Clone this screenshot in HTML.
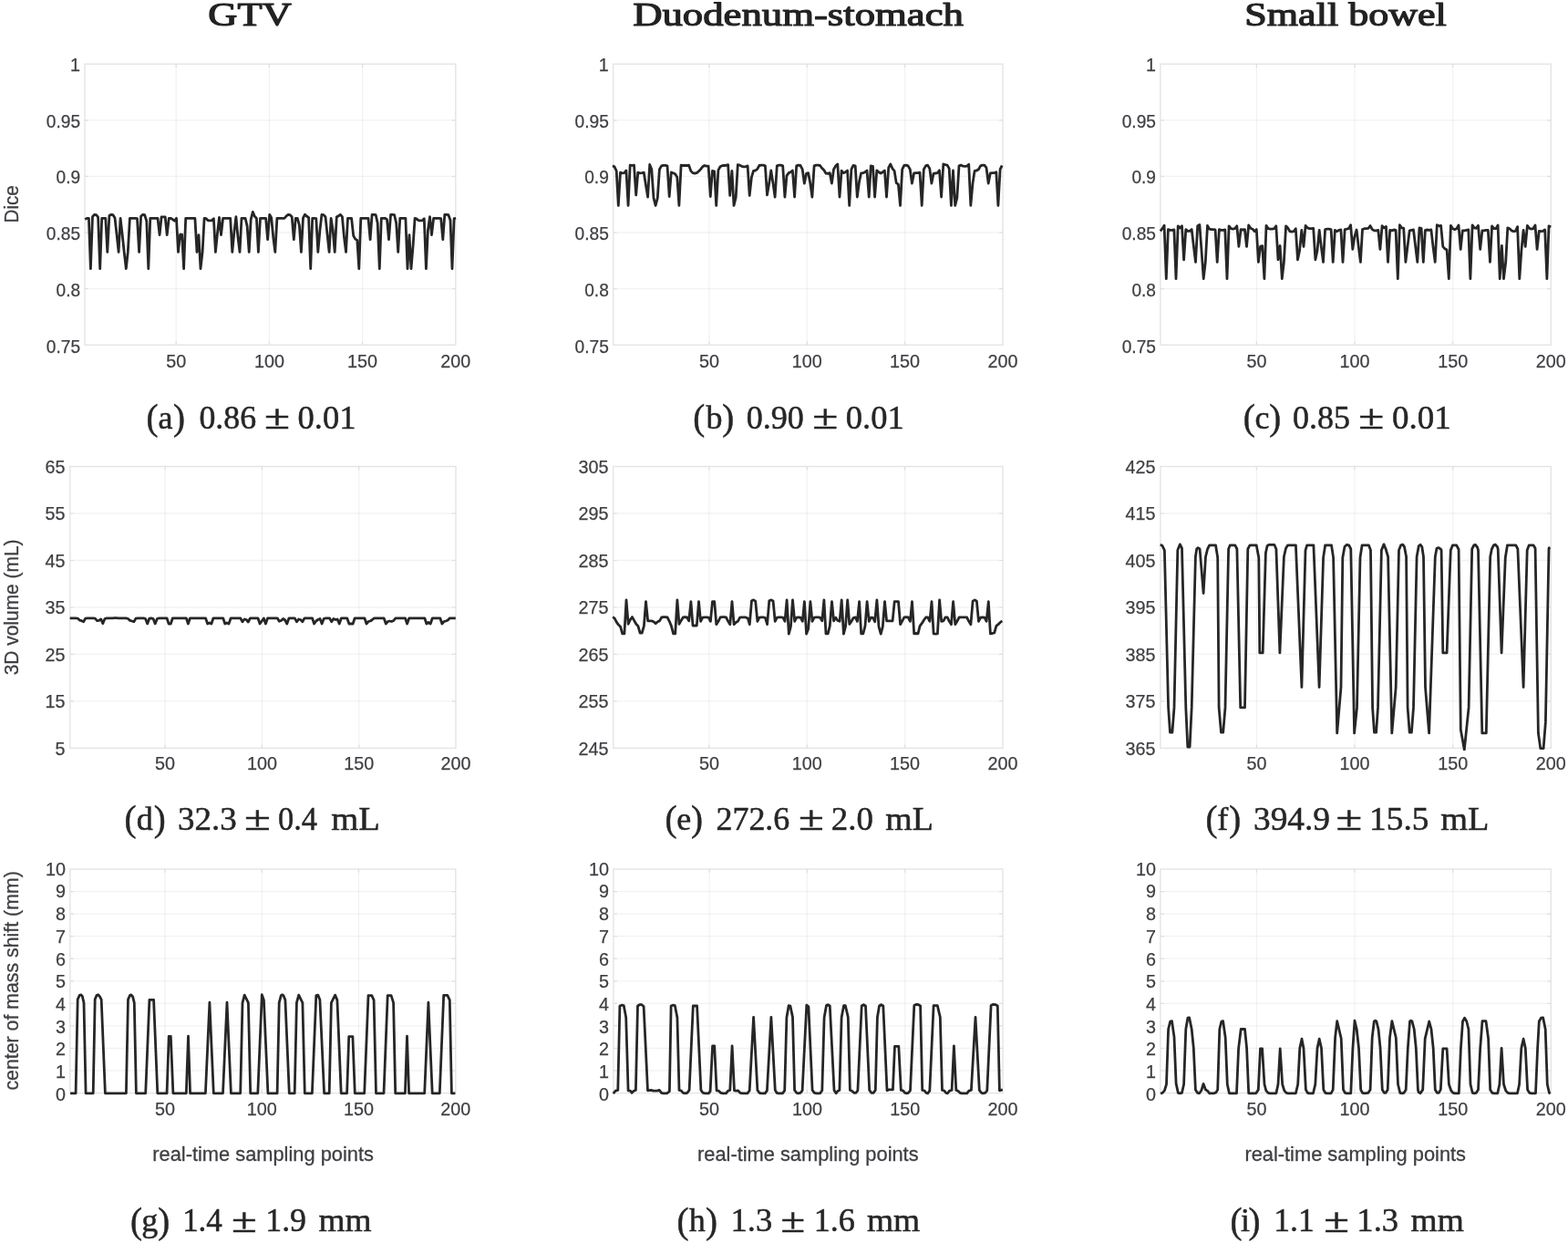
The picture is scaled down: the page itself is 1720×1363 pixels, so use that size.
<!DOCTYPE html>
<html lang="en">
<head>
<meta charset="utf-8">
<title>Real-time tracking metrics: GTV, Duodenum-stomach, Small bowel</title>
<style>
html,body{margin:0;padding:0;background:#fff;}
body{width:1720px;height:1363px;overflow:hidden;font-family:"Liberation Sans",Arial,sans-serif;}
svg{display:block;}
</style>
</head>
<body>
<svg width="1720" height="1363" viewBox="0 0 1720 1363" role="img" aria-label="Dice, 3D volume and center of mass shift over 200 real-time sampling points for GTV, Duodenum-stomach and Small bowel">
<defs><filter id="soft" x="0" y="0" width="1720" height="1363" filterUnits="userSpaceOnUse" color-interpolation-filters="sRGB"><feGaussianBlur stdDeviation="0.45"/></filter></defs>
<g filter="url(#soft)">
<rect width="1720" height="1363" fill="#fff"/>
<g id="plot-a">
<path d="M193.2 70.2V378.2M295.4 70.2V378.2M397.6 70.2V378.2" stroke="#000" stroke-opacity="0.05" stroke-width="1.3" fill="none"/>
<path d="M93 316.6H499.8M93 255H499.8M93 193.4H499.8M93 131.8H499.8" stroke="#000" stroke-opacity="0.05" stroke-width="1.3" fill="none"/>
<rect x="93" y="70.2" width="406.8" height="308" fill="none" stroke="#e4e4e6" stroke-width="1.4"/>
<path d="M193.2 378.2v-4M193.2 70.2v4M295.4 378.2v-4M295.4 70.2v4M397.6 378.2v-4M397.6 70.2v4M93 316.6h4M499.8 316.6h-4M93 255h4M499.8 255h-4M93 193.4h4M499.8 193.4h-4M93 131.8h4M499.8 131.8h-4" stroke="#dedfe2" stroke-width="1.2" fill="none"/>
<g font-family="'Liberation Sans', Arial, sans-serif" font-size="20.6" fill="#3e3f43" stroke="#3e3f43" stroke-width="0.25">
<text x="50.8" y="386.6" textLength="37.3" lengthAdjust="spacingAndGlyphs">0.75</text>
<text x="61.5" y="324.9" textLength="26.6" lengthAdjust="spacingAndGlyphs">0.8</text>
<text x="50.8" y="263.2" textLength="37.3" lengthAdjust="spacingAndGlyphs">0.85</text>
<text x="61.5" y="201.4" textLength="26.6" lengthAdjust="spacingAndGlyphs">0.9</text>
<text x="50.8" y="139.7" textLength="37.3" lengthAdjust="spacingAndGlyphs">0.95</text>
<text x="77.1" y="78" textLength="11" lengthAdjust="spacingAndGlyphs">1</text>
<text x="182.2" y="403.3" textLength="22" lengthAdjust="spacingAndGlyphs">50</text>
<text x="278.9" y="403.3" textLength="33" lengthAdjust="spacingAndGlyphs">100</text>
<text x="381.1" y="403.3" textLength="33" lengthAdjust="spacingAndGlyphs">150</text>
<text x="483.3" y="403.3" textLength="33" lengthAdjust="spacingAndGlyphs">200</text>
</g>
<clipPath id="clip-a"><rect x="91.5" y="67.7" width="409.8" height="313"/></clipPath>
<path d="M93.3 240.6L95.3 239.3L97.4 239.3L99.4 294.7L101.5 237.7L103.5 235.3L105.6 235.7L107.6 238.1L109.7 294.7L111.7 239.3L113.7 239.3L115.8 239.3L117.8 276.4L119.9 236.5L121.9 235.3L124 235.7L126 238.9L128.1 257.7L130.1 276.4L132.1 239.3L134.2 257.7L136.2 276.4L138.3 294.7L140.3 276.4L142.4 239.3L144.4 239.3L146.4 239.3L148.5 239.3L150.5 239.7L152.6 276.4L154.6 237.3L156.7 235.3L158.7 235.7L160.8 242.2L162.8 294.7L164.8 239.3L166.9 239.3L168.9 239.3L171 239.3L173 239.3L175.1 257.7L177.1 237.9L179.2 237.8L181.2 237.9L183.2 257.7L185.3 239.3L187.3 239.3L189.4 240.6L191.4 242.2L193.5 239.3L195.5 276.4L197.6 257.2L199.6 257.2L201.6 294.7L203.7 239.3L205.7 239.3L207.8 239.3L209.8 239.3L211.9 239.3L213.9 239.3L216 276.4L218 257.7L220 294.7L222.1 276.4L224.1 239.3L226.2 239.7L228.2 241.8L230.3 241.8L232.3 241.8L234.4 239.7L236.4 276.4L238.4 256.8L240.5 238.5L242.5 257.7L244.6 239.3L246.6 239.3L248.7 239.3L250.7 239.3L252.7 239.3L254.8 276.4L256.8 255.2L258.9 237.7L260.9 259.3L263 276.4L265 239.3L267.1 239.3L269.1 239.3L271.1 247.9L273.2 276.4L275.2 240.6L277.3 232.4L279.3 237.3L281.4 239.3L283.4 276.4L285.5 239.3L287.5 239.3L289.5 239.3L291.6 239.3L293.6 262.6L295.7 235.3L297.7 238.9L299.8 260.9L301.8 276.4L303.9 239.3L305.9 239.3L307.9 239.3L310 239.3L312 239.3L314.1 236.9L316.1 235.3L318.2 235.7L320.2 237.7L322.3 262.6L324.3 239.3L326.3 239.3L328.4 247.1L330.4 276.4L332.5 238.9L334.5 235.3L336.6 237.3L338.6 238.5L340.7 294.7L342.7 239.3L344.7 239.3L346.8 239.7L348.8 276.4L350.9 252.8L352.9 235.3L355 235.7L357 237.7L359 256.8L361.1 276.4L363.1 239.3L365.2 252.8L367.2 276.4L369.3 237.7L371.3 236.9L373.4 235.3L375.4 237.7L377.4 259.3L379.5 276.4L381.5 239.3L383.6 239.3L385.6 239.3L387.7 258.5L389.7 262.1L391.8 263.4L393.8 294.7L395.8 239.3L397.9 239.3L399.9 239.3L402 239.3L404 239.3L406.1 262.6L408.1 235.3L410.2 235.3L412.2 235.7L414.2 244.6L416.3 294.7L418.3 239.3L420.4 239.3L422.4 239.3L424.5 240.6L426.5 262.6L428.6 235.3L430.6 235.3L432.6 235.7L434.7 244.6L436.7 276.4L438.8 239.3L440.8 239.3L442.9 239.3L444.9 239.3L447 294.7L449 257.7L451 294.7L453.1 269.1L455.1 239.3L457.2 240.1L459.2 241.8L461.3 241.8L463.3 241.8L465.3 239.7L467.4 294.7L469.4 252.8L471.5 237.7L473.5 257.7L475.6 239.3L477.6 239.3L479.7 239.3L481.7 239.3L483.7 239.7L485.8 262.6L487.8 235.3L489.9 235.3L491.9 235.7L494 241.4L496 294.7L498.1 239.7L500.1 239.3" fill="none" stroke="#262626" stroke-width="2.8" stroke-linejoin="round" stroke-linecap="butt" clip-path="url(#clip-a)"/>
</g>
<g id="plot-b">
<path d="M777.9 70.2V378.2M885.3 70.2V378.2M992.6 70.2V378.2" stroke="#000" stroke-opacity="0.05" stroke-width="1.3" fill="none"/>
<path d="M672.7 316.6H1100M672.7 255H1100M672.7 193.4H1100M672.7 131.8H1100" stroke="#000" stroke-opacity="0.05" stroke-width="1.3" fill="none"/>
<rect x="672.7" y="70.2" width="427.3" height="308" fill="none" stroke="#e4e4e6" stroke-width="1.4"/>
<path d="M777.9 378.2v-4M777.9 70.2v4M885.3 378.2v-4M885.3 70.2v4M992.6 378.2v-4M992.6 70.2v4M672.7 316.6h4M1100 316.6h-4M672.7 255h4M1100 255h-4M672.7 193.4h4M1100 193.4h-4M672.7 131.8h4M1100 131.8h-4" stroke="#dedfe2" stroke-width="1.2" fill="none"/>
<g font-family="'Liberation Sans', Arial, sans-serif" font-size="20.6" fill="#3e3f43" stroke="#3e3f43" stroke-width="0.25">
<text x="630.5" y="386.6" textLength="37.3" lengthAdjust="spacingAndGlyphs">0.75</text>
<text x="641.2" y="324.9" textLength="26.6" lengthAdjust="spacingAndGlyphs">0.8</text>
<text x="630.5" y="263.2" textLength="37.3" lengthAdjust="spacingAndGlyphs">0.85</text>
<text x="641.2" y="201.4" textLength="26.6" lengthAdjust="spacingAndGlyphs">0.9</text>
<text x="630.5" y="139.7" textLength="37.3" lengthAdjust="spacingAndGlyphs">0.95</text>
<text x="656.8" y="78" textLength="11" lengthAdjust="spacingAndGlyphs">1</text>
<text x="766.9" y="403.3" textLength="22" lengthAdjust="spacingAndGlyphs">50</text>
<text x="868.8" y="403.3" textLength="33" lengthAdjust="spacingAndGlyphs">100</text>
<text x="976.1" y="403.3" textLength="33" lengthAdjust="spacingAndGlyphs">150</text>
<text x="1083.5" y="403.3" textLength="33" lengthAdjust="spacingAndGlyphs">200</text>
</g>
<clipPath id="clip-b"><rect x="671.2" y="67.7" width="430.3" height="313"/></clipPath>
<path d="M671.9 181.9L674 182.8L676.2 187.4L678.3 225.3L680.5 189.2L682.6 189.8L684.8 189.6L686.9 187L689.1 225.3L691.2 181.1L693.4 181.3L695.5 181.1L697.7 213.8L699.8 189.2L702 189.8L704.1 189.6L706.3 189.2L708.4 202.8L710.6 216L712.7 180.5L714.8 185.7L717 217.2L719.1 225.3L721.3 217.2L723.4 185.7L725.6 181.9L727.7 181.3L729.9 181.3L732 181.9L734.2 215.5L736.3 189L738.5 189.8L740.6 190.8L742.8 194.3L744.9 225.3L747.1 181.1L749.2 181.5L751.3 181.5L753.5 181.5L755.6 181.1L757.8 187.4L759.9 189.6L762.1 190L764.2 189.6L766.4 187.9L768.5 185.7L770.7 182.8L772.8 181.5L775 182.2L777.1 182.2L779.3 215.5L781.4 187.4L783.6 187.9L785.7 225.3L787.9 186.6L790 182.8L792.1 181.7L794.3 181.5L796.4 181.3L798.6 180.6L800.7 214.3L802.9 187.3L805 225.3L807.2 216.4L809.3 180.6L811.5 181.1L813.6 182.3L815.8 182.8L817.9 182.8L820.1 181.9L822.2 214.3L824.4 194.3L826.5 187.4L828.6 187L830.8 185.3L832.9 181.5L835.1 181.1L837.2 181.1L839.4 181.9L841.5 213.8L843.7 201.1L845.8 187L848 201.1L850.1 216L852.3 181.9L854.4 181.1L856.6 181.1L858.7 181.9L860.9 216L863 192.6L865.2 189.6L867.3 188.7L869.4 187L871.6 216L873.7 181.9L875.9 181.1L878 181.5L880.2 185.7L882.3 201.1L884.5 190.4L886.6 189.6L888.8 201.1L890.9 216L893.1 181.9L895.2 181.1L897.4 181.1L899.5 181.5L901.7 184.5L903.8 186.6L905.9 190L908.1 190.4L910.2 189.6L912.4 201.1L914.5 185.7L916.7 181.9L918.8 180L921 216L923.1 187.1L925.3 189.6L927.4 188.7L929.6 187L931.7 225.3L933.9 185.7L936 181.5L938.2 181.9L940.3 216L942.5 199.4L944.6 190L946.7 189.6L948.9 188.7L951 187L953.2 216L955.3 181.9L957.5 182.3L959.6 216L961.8 186.8L963.9 188.7L966.1 190L968.2 188.7L970.4 187L972.5 216L974.7 184L976.8 180L979 184.9L981.1 187.4L983.2 200.6L985.4 202.1L987.5 225.3L989.7 185.7L991.8 181.5L994 181.1L996.1 181.9L998.3 185.7L1000.4 201.1L1002.6 190L1004.7 189.6L1006.9 189.6L1009 189.2L1011.2 225.3L1013.3 185.7L1015.5 181.9L1017.6 181.1L1019.8 184.9L1021.9 201.1L1024 190.4L1026.2 190L1028.3 189.6L1030.5 186.8L1032.6 216L1034.8 180L1036.9 180.6L1039.1 181.1L1041.2 184.9L1043.4 225.3L1045.5 187L1047.7 225.3L1049.8 217.2L1052 181.9L1054.1 181.1L1056.3 182.2L1058.4 182.3L1060.5 182.2L1062.7 180.2L1064.8 225.3L1067 201.1L1069.1 187.4L1071.3 187L1073.4 185.7L1075.6 181.9L1077.7 181.1L1079.9 181.1L1082 184L1084.2 201.1L1086.3 190L1088.5 189.6L1090.6 189.6L1092.8 188.7L1094.9 225.3L1097.1 185.7L1099.2 181.5" fill="none" stroke="#262626" stroke-width="2.8" stroke-linejoin="round" stroke-linecap="butt" clip-path="url(#clip-b)"/>
</g>
<g id="plot-c">
<path d="M1378.4 70.2V378.2M1486 70.2V378.2M1593.7 70.2V378.2" stroke="#000" stroke-opacity="0.05" stroke-width="1.3" fill="none"/>
<path d="M1272.9 316.6H1701.3M1272.9 255H1701.3M1272.9 193.4H1701.3M1272.9 131.8H1701.3" stroke="#000" stroke-opacity="0.05" stroke-width="1.3" fill="none"/>
<rect x="1272.9" y="70.2" width="428.4" height="308" fill="none" stroke="#e4e4e6" stroke-width="1.4"/>
<path d="M1378.4 378.2v-4M1378.4 70.2v4M1486 378.2v-4M1486 70.2v4M1593.7 378.2v-4M1593.7 70.2v4M1272.9 316.6h4M1701.3 316.6h-4M1272.9 255h4M1701.3 255h-4M1272.9 193.4h4M1701.3 193.4h-4M1272.9 131.8h4M1701.3 131.8h-4" stroke="#dedfe2" stroke-width="1.2" fill="none"/>
<g font-family="'Liberation Sans', Arial, sans-serif" font-size="20.6" fill="#3e3f43" stroke="#3e3f43" stroke-width="0.25">
<text x="1230.7" y="386.6" textLength="37.3" lengthAdjust="spacingAndGlyphs">0.75</text>
<text x="1241.4" y="324.9" textLength="26.6" lengthAdjust="spacingAndGlyphs">0.8</text>
<text x="1230.7" y="263.2" textLength="37.3" lengthAdjust="spacingAndGlyphs">0.85</text>
<text x="1241.4" y="201.4" textLength="26.6" lengthAdjust="spacingAndGlyphs">0.9</text>
<text x="1230.7" y="139.7" textLength="37.3" lengthAdjust="spacingAndGlyphs">0.95</text>
<text x="1257" y="78" textLength="11" lengthAdjust="spacingAndGlyphs">1</text>
<text x="1367.4" y="403.3" textLength="22" lengthAdjust="spacingAndGlyphs">50</text>
<text x="1469.5" y="403.3" textLength="33" lengthAdjust="spacingAndGlyphs">100</text>
<text x="1577.2" y="403.3" textLength="33" lengthAdjust="spacingAndGlyphs">150</text>
<text x="1684.8" y="403.3" textLength="33" lengthAdjust="spacingAndGlyphs">200</text>
</g>
<clipPath id="clip-c"><rect x="1271.4" y="67.7" width="431.4" height="313"/></clipPath>
<path d="M1272.8 253.3L1275 250.7L1277.1 247.3L1279.3 305.6L1281.4 251.6L1283.6 252.4L1285.7 252.4L1287.9 252L1290 305.6L1292.2 247.8L1294.3 249.9L1296.5 247.8L1298.6 284.8L1300.8 251.6L1302.9 253.3L1305.1 253.3L1307.2 251.6L1309.4 270.3L1311.5 287.3L1313.7 247.8L1315.9 246.5L1318 274.6L1320.2 305.6L1322.3 287.3L1324.5 247.3L1326.6 251.2L1328.8 251.6L1330.9 251.6L1333.1 252L1335.2 287.3L1337.4 251.6L1339.5 252.4L1341.7 252.4L1343.8 252L1346 305.6L1348.1 247.8L1350.3 250.7L1352.5 251.2L1354.6 250.7L1356.8 247.8L1358.9 270.3L1361.1 251.6L1363.2 252L1365.4 251.6L1367.5 270.3L1369.7 246.9L1371.8 250.3L1374 251.2L1376.1 253.7L1378.3 251.6L1380.4 287.3L1382.6 270.1L1384.7 269.7L1386.9 305.6L1389 247.3L1391.2 250.7L1393.4 251.2L1395.5 251.2L1397.7 250.7L1399.8 247.8L1402 284.8L1404.1 269.5L1406.3 305.6L1408.4 287.3L1410.6 247.8L1412.7 249.9L1414.9 253.7L1417 254.2L1419.2 253.7L1421.3 250.7L1423.5 284.8L1425.6 274.6L1427.8 252.4L1430 270.3L1432.1 247.3L1434.3 249.9L1436.4 250.7L1438.6 250.7L1440.7 250.3L1442.9 284.8L1445 274.6L1447.2 252.4L1449.3 270.3L1451.5 287.3L1453.6 251.6L1455.8 251.2L1457.9 251.2L1460.1 251.6L1462.2 287.3L1464.4 252.4L1466.5 253.7L1468.7 252.4L1470.9 252L1473 287.3L1475.2 251.6L1477.3 251.2L1479.5 250.7L1481.6 246.7L1483.8 273.3L1485.9 259.3L1488.1 252L1490.2 269.9L1492.4 287.3L1494.5 251.6L1496.7 250.7L1498.8 250.7L1501 250.3L1503.1 247.6L1505.3 251.6L1507.5 252.9L1509.6 252.9L1511.8 252.4L1513.9 273.3L1516.1 247.6L1518.2 249.9L1520.4 248.4L1522.5 287.3L1524.7 252.4L1526.8 252.9L1529 252L1531.1 252.4L1533.3 305.6L1535.4 246.7L1537.6 249.9L1539.7 250.2L1541.9 287.3L1544 270.3L1546.2 252.9L1548.4 252.4L1550.5 252L1552.7 270.3L1554.8 287.3L1557 249.9L1559.1 250.3L1561.3 287.3L1563.4 252.3L1565.6 252L1567.7 252.4L1569.9 252L1572 270.3L1574.2 287.3L1576.3 246.7L1578.5 247.8L1580.6 247.3L1582.8 270.3L1585 272.9L1587.1 273.7L1589.3 305.6L1591.4 247.3L1593.6 250.7L1595.7 251.6L1597.9 250.7L1600 246.9L1602.2 273.3L1604.3 252.9L1606.5 252.9L1608.6 252.4L1610.8 252L1612.9 305.6L1615.1 246.9L1617.2 249.9L1619.4 250.3L1621.5 247.3L1623.7 273.3L1625.9 252.9L1628 252.9L1630.2 252.4L1632.3 252.4L1634.5 287.3L1636.6 247.8L1638.8 250.7L1640.9 250.7L1643.1 246.9L1645.2 305.6L1647.4 269.5L1649.5 305.6L1651.7 287.3L1653.8 249.9L1656 250.7L1658.1 252.9L1660.3 253.7L1662.5 253.3L1664.6 248.6L1666.8 305.6L1668.9 274.6L1671.1 252.4L1673.2 270.3L1675.4 247.3L1677.5 250.3L1679.7 251.2L1681.8 250.7L1684 246.9L1686.1 273.3L1688.3 253.3L1690.4 253.7L1692.6 253.3L1694.7 252L1696.9 305.6L1699 247.8L1701.2 249" fill="none" stroke="#262626" stroke-width="2.8" stroke-linejoin="round" stroke-linecap="butt" clip-path="url(#clip-c)"/>
</g>
<g id="plot-d">
<path d="M181.1 511.5V820.4M287.4 511.5V820.4M393.7 511.5V820.4" stroke="#000" stroke-opacity="0.05" stroke-width="1.3" fill="none"/>
<path d="M76.9 768.9H500M76.9 717.4H500M76.9 666H500M76.9 614.5H500M76.9 563H500" stroke="#000" stroke-opacity="0.05" stroke-width="1.3" fill="none"/>
<rect x="76.9" y="511.5" width="423.1" height="308.9" fill="none" stroke="#e4e4e6" stroke-width="1.4"/>
<path d="M181.1 820.4v-4M181.1 511.5v4M287.4 820.4v-4M287.4 511.5v4M393.7 820.4v-4M393.7 511.5v4M76.9 768.9h4M500 768.9h-4M76.9 717.4h4M500 717.4h-4M76.9 666h4M500 666h-4M76.9 614.5h4M500 614.5h-4M76.9 563h4M500 563h-4" stroke="#dedfe2" stroke-width="1.2" fill="none"/>
<g font-family="'Liberation Sans', Arial, sans-serif" font-size="20.6" fill="#3e3f43" stroke="#3e3f43" stroke-width="0.25">
<text x="60.6" y="828" textLength="11" lengthAdjust="spacingAndGlyphs">5</text>
<text x="49.6" y="776.4" textLength="22" lengthAdjust="spacingAndGlyphs">15</text>
<text x="49.6" y="724.9" textLength="22" lengthAdjust="spacingAndGlyphs">25</text>
<text x="49.6" y="673.3" textLength="22" lengthAdjust="spacingAndGlyphs">35</text>
<text x="49.6" y="621.7" textLength="22" lengthAdjust="spacingAndGlyphs">45</text>
<text x="49.6" y="570.2" textLength="22" lengthAdjust="spacingAndGlyphs">55</text>
<text x="49.6" y="518.6" textLength="22" lengthAdjust="spacingAndGlyphs">65</text>
<text x="170.1" y="844.4" textLength="22" lengthAdjust="spacingAndGlyphs">50</text>
<text x="270.9" y="844.4" textLength="33" lengthAdjust="spacingAndGlyphs">100</text>
<text x="377.2" y="844.4" textLength="33" lengthAdjust="spacingAndGlyphs">150</text>
<text x="483.5" y="844.4" textLength="33" lengthAdjust="spacingAndGlyphs">200</text>
</g>
<clipPath id="clip-d"><rect x="75.4" y="509" width="426.1" height="313.9"/></clipPath>
<path d="M76.7 677.8L78.8 677.8L81 677.8L83.1 677.8L85.2 678.1L87.3 680.1L89.5 680.7L91.6 681.7L93.7 678.1L95.8 677.8L98 677.8L100.1 677.8L102.2 677.8L104.3 678.1L106.5 680.7L108.6 680.4L110.7 678.9L112.8 683.6L115 678.5L117.1 677.8L119.2 677.8L121.3 677.8L123.5 677.8L125.6 677.6L127.7 677.6L129.9 677.8L132 677.8L134.1 677.8L136.2 677.8L138.4 677.8L140.5 678.5L142.6 680.4L144.7 681L146.9 681.8L149 678.1L151.1 677.8L153.2 677.8L155.4 677.8L157.5 677.8L159.6 678.5L161.7 683.9L163.9 678.1L166 677.8L168.1 678.5L170.2 683.9L172.4 678.5L174.5 677.8L176.6 677.8L178.8 677.8L180.9 677.8L183 677.8L185.1 684L187.3 684L189.4 677.8L191.5 677.8L193.6 677.8L195.8 677.8L197.9 677.8L200 677.8L202.1 677.8L204.3 677.8L206.4 684L208.5 677.8L210.6 677.8L212.8 677.8L214.9 677.8L217 677.8L219.2 677.8L221.3 677.8L223.4 677.8L225.5 677.8L227.7 684L229.8 683L231.9 684L234 677.8L236.2 677.8L238.3 677.8L240.4 677.8L242.5 677.8L244.7 677.8L246.8 684L248.9 683L251 684L253.2 677.8L255.3 677.8L257.4 677.8L259.5 677.8L261.7 677.8L263.8 677.8L265.9 681.8L268.1 679L270.2 679.5L272.3 682L274.4 677.8L276.6 677.8L278.7 677.8L280.8 677.8L282.9 677.8L285.1 684L287.2 681L289.3 678L291.4 684L293.6 677.8L295.7 677.8L297.8 677.8L299.9 677.8L302.1 677.8L304.2 677.8L306.3 681.3L308.4 680.5L310.6 678.5L312.7 680L314.8 684L317 677.8L319.1 677.8L321.2 677.8L323.3 677.8L325.5 681.8L327.6 679L329.7 679.5L331.8 681.8L334 677.8L336.1 677.8L338.2 677.8L340.3 677.8L342.5 677.8L344.6 684L346.7 681L348.8 679.5L351 678.5L353.1 684L355.2 678.5L357.3 677.8L359.5 677.8L361.6 677.8L363.7 681.8L365.9 678.5L368 679.5L370.1 679L372.2 684L374.4 677.8L376.5 677.8L378.6 677.8L380.7 677.8L382.9 684L385 684L387.1 684L389.2 677.8L391.4 677.8L393.5 677.8L395.6 677.8L397.7 677.8L399.9 677.8L402 684L404.1 681.5L406.3 681L408.4 679.5L410.5 677.8L412.6 677.8L414.8 677.8L416.9 677.8L419 677.8L421.1 677.8L423.3 684L425.4 681.5L427.5 681L429.6 681.5L431.8 680.5L433.9 677.8L436 677.8L438.1 677.8L440.3 677.8L442.4 677.8L444.5 677.8L446.6 684L448.8 677.8L450.9 677.8L453 677.8L455.2 677.8L457.3 677.8L459.4 677.8L461.5 677.8L463.7 677.8L465.8 677.8L467.9 684L470 682.5L472.2 684L474.3 677.8L476.4 677.8L478.5 677.8L480.7 677.8L482.8 677.8L484.9 684L487 681.5L489.2 681L491.3 680L493.4 677.8L495.5 677.8L497.7 677.8L499.8 677.8" fill="none" stroke="#262626" stroke-width="2.8" stroke-linejoin="round" stroke-linecap="butt" clip-path="url(#clip-d)"/>
</g>
<g id="plot-e">
<path d="M777.9 511.5V820.4M885.3 511.5V820.4M992.6 511.5V820.4" stroke="#000" stroke-opacity="0.05" stroke-width="1.3" fill="none"/>
<path d="M672.7 768.9H1100M672.7 717.4H1100M672.7 666H1100M672.7 614.5H1100M672.7 563H1100" stroke="#000" stroke-opacity="0.05" stroke-width="1.3" fill="none"/>
<rect x="672.7" y="511.5" width="427.3" height="308.9" fill="none" stroke="#e4e4e6" stroke-width="1.4"/>
<path d="M777.9 820.4v-4M777.9 511.5v4M885.3 820.4v-4M885.3 511.5v4M992.6 820.4v-4M992.6 511.5v4M672.7 768.9h4M1100 768.9h-4M672.7 717.4h4M1100 717.4h-4M672.7 666h4M1100 666h-4M672.7 614.5h4M1100 614.5h-4M672.7 563h4M1100 563h-4" stroke="#dedfe2" stroke-width="1.2" fill="none"/>
<g font-family="'Liberation Sans', Arial, sans-serif" font-size="20.6" fill="#3e3f43" stroke="#3e3f43" stroke-width="0.25">
<text x="634.4" y="828" textLength="33" lengthAdjust="spacingAndGlyphs">245</text>
<text x="634.4" y="776.4" textLength="33" lengthAdjust="spacingAndGlyphs">255</text>
<text x="634.4" y="724.9" textLength="33" lengthAdjust="spacingAndGlyphs">265</text>
<text x="634.4" y="673.3" textLength="33" lengthAdjust="spacingAndGlyphs">275</text>
<text x="634.4" y="621.7" textLength="33" lengthAdjust="spacingAndGlyphs">285</text>
<text x="634.4" y="570.2" textLength="33" lengthAdjust="spacingAndGlyphs">295</text>
<text x="634.4" y="518.6" textLength="33" lengthAdjust="spacingAndGlyphs">305</text>
<text x="766.9" y="844.4" textLength="22" lengthAdjust="spacingAndGlyphs">50</text>
<text x="868.8" y="844.4" textLength="33" lengthAdjust="spacingAndGlyphs">100</text>
<text x="976.1" y="844.4" textLength="33" lengthAdjust="spacingAndGlyphs">150</text>
<text x="1083.5" y="844.4" textLength="33" lengthAdjust="spacingAndGlyphs">200</text>
</g>
<clipPath id="clip-e"><rect x="671.2" y="509" width="430.3" height="313.9"/></clipPath>
<path d="M672 676.6L674.1 677.9L676.3 682.1L678.4 685.1L680.6 687.2L682.7 694.9L684.9 694.9L687 657.9L689.2 684.3L691.3 679.6L693.5 676.6L695.6 680.4L697.8 684.3L699.9 686.4L702.1 694L704.2 694L706.4 686.4L708.5 659.6L710.7 680.9L712.8 680.9L714.9 680.9L717.1 681.7L719.2 683.8L721.4 681.7L723.5 680.9L725.7 677L727.8 676.6L730 676.6L732.1 677L734.3 681.3L736.4 686.4L738.6 694.9L740.7 694.9L742.9 657.9L745 684.3L747.2 680.4L749.3 677L751.4 676.6L753.6 677L755.7 680.9L757.9 659.6L760 686L762.2 686L764.3 686L766.5 659.6L768.6 681.3L770.8 677.2L772.9 676.9L775.1 676.9L777.2 677.2L779.4 681.3L781.5 659.6L783.7 659.6L785.8 684.7L788 681.3L790.1 677L792.2 676.6L794.4 676.6L796.5 677L798.7 681.3L800.8 684.7L803 659.6L805.1 684.7L807.3 682.5L809.4 681.3L811.6 677.2L813.7 676.9L815.9 676.9L818 676.9L820.2 677.9L822.3 684.7L824.5 658.7L826.6 657.9L828.7 659.1L830.9 681.3L833 677.2L835.2 676.9L837.3 676.9L839.5 677.5L841.6 684.7L843.8 658.7L845.9 657.9L848.1 659.1L850.2 681.3L852.4 677.2L854.5 676.9L856.7 676.9L858.8 677.2L861 681.3L863.1 657.9L865.3 695.1L867.4 687.2L869.5 657.9L871.7 681.3L873.8 677.2L876 676.9L878.1 677.2L880.3 681.3L882.4 659.6L884.6 695.1L886.7 689.4L888.9 659.6L891 681.3L893.2 677.2L895.3 676.9L897.5 676.9L899.6 677.2L901.8 680.9L903.9 657.9L906 694.9L908.2 694.9L910.3 686.4L912.5 659.6L914.6 680.9L916.8 677.2L918.9 680.4L921.1 681.3L923.2 657.9L925.4 695.1L927.5 687.2L929.7 657.9L931.8 684.3L934 681.3L936.1 677.5L938.3 676.9L940.4 681.3L942.6 659.6L944.7 694.9L946.8 694.9L949 686.4L951.1 659.6L953.3 681.3L955.4 677.2L957.6 677.5L959.7 681.7L961.9 657.9L964 687.2L966.2 695.1L968.3 687.2L970.5 659.6L972.6 680.9L974.8 680.9L976.9 680.9L979.1 680.9L981.2 659.6L983.3 659.6L985.5 659.6L987.6 684.7L989.8 680.9L991.9 676.9L994.1 676.6L996.2 676.9L998.4 681.3L1000.5 659.6L1002.7 694.9L1004.8 694.5L1007 694.9L1009.1 686.4L1011.3 683.4L1013.4 680L1015.6 677L1017.7 676.9L1019.9 681.3L1022 659.6L1024.1 694.9L1026.3 695.1L1028.4 694.9L1030.6 657.9L1032.7 681.3L1034.9 680.9L1037 676.9L1039.2 676.9L1041.3 681.3L1043.5 684.7L1045.6 659.6L1047.8 684.7L1049.9 681.3L1052.1 677L1054.2 676.9L1056.4 676.9L1058.5 676.9L1060.6 677L1062.8 681.3L1064.9 684.7L1067.1 659.1L1069.2 657.9L1071.4 659.3L1073.5 681.3L1075.7 677.2L1077.8 676.9L1080 677.2L1082.1 681.3L1084.3 659.6L1086.4 694.9L1088.6 694.5L1090.7 694L1092.9 686.4L1095 684.7L1097.2 682.5L1099.3 680.9" fill="none" stroke="#262626" stroke-width="2.8" stroke-linejoin="round" stroke-linecap="butt" clip-path="url(#clip-e)"/>
</g>
<g id="plot-f">
<path d="M1378.4 511.5V820.4M1486 511.5V820.4M1593.7 511.5V820.4" stroke="#000" stroke-opacity="0.05" stroke-width="1.3" fill="none"/>
<path d="M1272.9 768.9H1701.3M1272.9 717.4H1701.3M1272.9 666H1701.3M1272.9 614.5H1701.3M1272.9 563H1701.3" stroke="#000" stroke-opacity="0.05" stroke-width="1.3" fill="none"/>
<rect x="1272.9" y="511.5" width="428.4" height="308.9" fill="none" stroke="#e4e4e6" stroke-width="1.4"/>
<path d="M1378.4 820.4v-4M1378.4 511.5v4M1486 820.4v-4M1486 511.5v4M1593.7 820.4v-4M1593.7 511.5v4M1272.9 768.9h4M1701.3 768.9h-4M1272.9 717.4h4M1701.3 717.4h-4M1272.9 666h4M1701.3 666h-4M1272.9 614.5h4M1701.3 614.5h-4M1272.9 563h4M1701.3 563h-4" stroke="#dedfe2" stroke-width="1.2" fill="none"/>
<g font-family="'Liberation Sans', Arial, sans-serif" font-size="20.6" fill="#3e3f43" stroke="#3e3f43" stroke-width="0.25">
<text x="1234.6" y="828" textLength="33" lengthAdjust="spacingAndGlyphs">365</text>
<text x="1234.6" y="776.4" textLength="33" lengthAdjust="spacingAndGlyphs">375</text>
<text x="1234.6" y="724.9" textLength="33" lengthAdjust="spacingAndGlyphs">385</text>
<text x="1234.6" y="673.3" textLength="33" lengthAdjust="spacingAndGlyphs">395</text>
<text x="1234.6" y="621.7" textLength="33" lengthAdjust="spacingAndGlyphs">405</text>
<text x="1234.6" y="570.2" textLength="33" lengthAdjust="spacingAndGlyphs">415</text>
<text x="1234.6" y="518.6" textLength="33" lengthAdjust="spacingAndGlyphs">425</text>
<text x="1367.4" y="844.4" textLength="22" lengthAdjust="spacingAndGlyphs">50</text>
<text x="1469.5" y="844.4" textLength="33" lengthAdjust="spacingAndGlyphs">100</text>
<text x="1577.2" y="844.4" textLength="33" lengthAdjust="spacingAndGlyphs">150</text>
<text x="1684.8" y="844.4" textLength="33" lengthAdjust="spacingAndGlyphs">200</text>
</g>
<clipPath id="clip-f"><rect x="1271.4" y="509" width="431.4" height="313.9"/></clipPath>
<path d="M1272.7 597.3L1274.8 598.2L1277.4 603.3L1281.6 775.9L1283.5 803.1L1285.9 803.1L1288 775.9L1291.8 603.3L1294.4 596.9L1296.5 601.2L1300.8 775.9L1302.8 819L1305.1 819L1307.2 775.9L1311.4 610.5L1312.7 602L1314 600.6L1316.1 602L1320.1 650.5L1322.5 610.5L1324.6 602L1326.7 597.8L1333.5 597.8L1335.7 611.4L1337.1 775.9L1339.5 803.1L1341.7 803.1L1344 775.9L1347.6 602L1349.3 597.8L1354.8 597.8L1356.9 602L1360.7 775.9L1365.5 775.9L1368.8 602L1371 597.8L1378.2 597.8L1380.8 611.4L1381.8 715.9L1385.2 715.9L1388.4 606.3L1390.1 598.6L1391.8 597.3L1397.8 597.3L1399.9 602L1403.9 715.9L1408.4 610.5L1410.5 601.2L1412.7 597.8L1421.4 597.8L1427.9 753.5L1432 603.3L1433.7 597.8L1440.9 597.8L1447.1 753.5L1451.6 611.4L1453.7 597.8L1460.5 597.8L1462.6 611.4L1466.7 803.9L1471 753.5L1472.8 611.4L1475 599.5L1477.4 597.3L1479.7 597.8L1481.8 602L1485.6 803.9L1488.5 775.9L1492 611.4L1494.1 597.8L1501.4 597.8L1503.5 603.3L1505.6 775.9L1507.5 803.1L1509.6 803.1L1511.5 775.9L1515.4 603.3L1518 596.9L1520.1 602L1522.6 610.5L1526.8 803.9L1531.2 753.5L1534.5 603.3L1536.7 597.8L1538.8 597.2L1540.5 599.5L1542.6 610.5L1544.1 775.9L1546.2 803.1L1548.4 803.1L1550.5 775.9L1554.1 610.5L1556.3 598.6L1558.1 597.3L1559.8 599.5L1561.5 610.5L1563.5 753.5L1567.6 803.9L1574.3 610.5L1576 601.2L1577.7 600.6L1580.3 602L1581.1 603.3L1582.8 715.9L1587.1 715.9L1591.3 603.3L1593.5 597.8L1597.7 597.8L1600.1 602.5L1602.3 799.9L1606.3 822.2L1611.1 775.9L1614.7 602L1616.8 597.8L1618.5 597.3L1620.7 600.3L1621.5 603.3L1625.8 803.9L1630.3 803.9L1634.7 610.5L1636.4 602L1638.5 597.8L1640.3 597.2L1642.4 599.5L1643.2 602L1647.1 715.9L1651.3 611.4L1653.5 597.8L1662.8 597.8L1664.9 602L1671.1 753.5L1675.2 603.3L1677.3 597.8L1682 597.8L1684.1 601.2L1687.4 803.9L1689.8 820.6L1693.1 820.6L1695.4 791.9L1699 601.2L1700.4 600.1" fill="none" stroke="#262626" stroke-width="2.8" stroke-linejoin="round" stroke-linecap="butt" clip-path="url(#clip-f)"/>
</g>
<g id="plot-g">
<path d="M181 953V1198.6M287.3 953V1198.6M393.5 953V1198.6" stroke="#000" stroke-opacity="0.05" stroke-width="1.3" fill="none"/>
<path d="M76.9 1174H499.8M76.9 1149.5H499.8M76.9 1124.9H499.8M76.9 1100.4H499.8M76.9 1075.8H499.8M76.9 1051.2H499.8M76.9 1026.7H499.8M76.9 1002.1H499.8M76.9 977.6H499.8" stroke="#000" stroke-opacity="0.05" stroke-width="1.3" fill="none"/>
<rect x="76.9" y="953" width="422.9" height="245.6" fill="none" stroke="#e4e4e6" stroke-width="1.4"/>
<path d="M181 1198.6v-4M181 953v4M287.3 1198.6v-4M287.3 953v4M393.5 1198.6v-4M393.5 953v4M76.9 1174h4M499.8 1174h-4M76.9 1149.5h4M499.8 1149.5h-4M76.9 1124.9h4M499.8 1124.9h-4M76.9 1100.4h4M499.8 1100.4h-4M76.9 1075.8h4M499.8 1075.8h-4M76.9 1051.2h4M499.8 1051.2h-4M76.9 1026.7h4M499.8 1026.7h-4M76.9 1002.1h4M499.8 1002.1h-4M76.9 977.6h4M499.8 977.6h-4" stroke="#dedfe2" stroke-width="1.2" fill="none"/>
<g font-family="'Liberation Sans', Arial, sans-serif" font-size="20.6" fill="#3e3f43" stroke="#3e3f43" stroke-width="0.25">
<text x="61.1" y="1206.6" textLength="11" lengthAdjust="spacingAndGlyphs">0</text>
<text x="61.1" y="1181.9" textLength="11" lengthAdjust="spacingAndGlyphs">1</text>
<text x="61.1" y="1157.2" textLength="11" lengthAdjust="spacingAndGlyphs">2</text>
<text x="61.1" y="1132.5" textLength="11" lengthAdjust="spacingAndGlyphs">3</text>
<text x="61.1" y="1107.8" textLength="11" lengthAdjust="spacingAndGlyphs">4</text>
<text x="61.1" y="1083.1" textLength="11" lengthAdjust="spacingAndGlyphs">5</text>
<text x="61.1" y="1058.5" textLength="11" lengthAdjust="spacingAndGlyphs">6</text>
<text x="61.1" y="1033.8" textLength="11" lengthAdjust="spacingAndGlyphs">7</text>
<text x="61.1" y="1009.1" textLength="11" lengthAdjust="spacingAndGlyphs">8</text>
<text x="61.1" y="984.4" textLength="11" lengthAdjust="spacingAndGlyphs">9</text>
<text x="50.1" y="959.7" textLength="22" lengthAdjust="spacingAndGlyphs">10</text>
<text x="170" y="1222.6" textLength="22" lengthAdjust="spacingAndGlyphs">50</text>
<text x="270.8" y="1222.6" textLength="33" lengthAdjust="spacingAndGlyphs">100</text>
<text x="377" y="1222.6" textLength="33" lengthAdjust="spacingAndGlyphs">150</text>
<text x="483.3" y="1222.6" textLength="33" lengthAdjust="spacingAndGlyphs">200</text>
</g>
<clipPath id="clip-g"><rect x="75.4" y="950.5" width="425.9" height="250.6"/></clipPath>
<path d="M77.1 1198.8L83.1 1198.8L85.2 1095.8L87.3 1091.3L88.8 1090.8L90.3 1092.4L92 1099.6L94.1 1198.8L102.2 1198.8L104.2 1095.8L106 1091.6L107.6 1090.8L109.5 1092.8L111.2 1096.2L115.4 1198.8L138.4 1198.8L140.5 1095.8L142.6 1091.3L143.9 1090.8L145.6 1092.8L147.3 1099.6L149.4 1198.8L159.7 1198.8L163.9 1096.4L168.6 1096.4L172.8 1198.8L183.1 1198.8L185.2 1136.4L187.3 1136.4L189.9 1198.8L204.3 1198.8L206.5 1136.2L208.6 1198.8L216.7 1198.8L218.6 1198.8L225.4 1198.8L229.9 1099.2L234.3 1198.8L244.5 1198.8L249 1099.2L253.4 1198.8L263.7 1198.8L266 1099.6L268.2 1091.1L272.4 1099.6L274.7 1198.8L282.8 1198.8L287.3 1090.7L289.4 1096.6L293.9 1198.8L304.1 1198.8L306.2 1099.6L308.3 1091.6L309.6 1090.8L310.9 1091.6L312.9 1096.6L317.3 1198.8L323.2 1198.8L325.4 1099.6L327.7 1091.1L331.9 1099.6L334.3 1198.8L342.4 1198.8L346.8 1091.6L348.8 1091.1L350.9 1096.2L355.6 1198.8L360.7 1198.8L361.2 1198.8L363.4 1099.6L367.6 1091.1L369.9 1096.6L374.2 1198.8L380.6 1198.8L382.7 1136.7L386.9 1136.7L389.3 1198.8L399.7 1198.8L404 1091.6L407.8 1091.6L410.1 1096.6L412.5 1198.8L421 1198.8L425.2 1091.6L429.1 1091.6L431.6 1099.6L433.7 1198.8L444.4 1198.8L446.5 1136.2L448.6 1198.8L465.7 1198.8L469.9 1099.2L474.2 1198.8L482.3 1198.8L486.7 1091.3L490.8 1091.3L493.3 1096.6L495.4 1198.8L499.4 1198.8" fill="none" stroke="#262626" stroke-width="2.8" stroke-linejoin="round" stroke-linecap="butt" clip-path="url(#clip-g)"/>
</g>
<g id="plot-h">
<path d="M778.1 953V1198.6M885.4 953V1198.6M992.7 953V1198.6" stroke="#000" stroke-opacity="0.05" stroke-width="1.3" fill="none"/>
<path d="M672.9 1174H1100M672.9 1149.5H1100M672.9 1124.9H1100M672.9 1100.4H1100M672.9 1075.8H1100M672.9 1051.2H1100M672.9 1026.7H1100M672.9 1002.1H1100M672.9 977.6H1100" stroke="#000" stroke-opacity="0.05" stroke-width="1.3" fill="none"/>
<rect x="672.9" y="953" width="427.1" height="245.6" fill="none" stroke="#e4e4e6" stroke-width="1.4"/>
<path d="M778.1 1198.6v-4M778.1 953v4M885.4 1198.6v-4M885.4 953v4M992.7 1198.6v-4M992.7 953v4M672.9 1174h4M1100 1174h-4M672.9 1149.5h4M1100 1149.5h-4M672.9 1124.9h4M1100 1124.9h-4M672.9 1100.4h4M1100 1100.4h-4M672.9 1075.8h4M1100 1075.8h-4M672.9 1051.2h4M1100 1051.2h-4M672.9 1026.7h4M1100 1026.7h-4M672.9 1002.1h4M1100 1002.1h-4M672.9 977.6h4M1100 977.6h-4" stroke="#dedfe2" stroke-width="1.2" fill="none"/>
<g font-family="'Liberation Sans', Arial, sans-serif" font-size="20.6" fill="#3e3f43" stroke="#3e3f43" stroke-width="0.25">
<text x="657.1" y="1206.6" textLength="11" lengthAdjust="spacingAndGlyphs">0</text>
<text x="657.1" y="1181.9" textLength="11" lengthAdjust="spacingAndGlyphs">1</text>
<text x="657.1" y="1157.2" textLength="11" lengthAdjust="spacingAndGlyphs">2</text>
<text x="657.1" y="1132.5" textLength="11" lengthAdjust="spacingAndGlyphs">3</text>
<text x="657.1" y="1107.8" textLength="11" lengthAdjust="spacingAndGlyphs">4</text>
<text x="657.1" y="1083.1" textLength="11" lengthAdjust="spacingAndGlyphs">5</text>
<text x="657.1" y="1058.5" textLength="11" lengthAdjust="spacingAndGlyphs">6</text>
<text x="657.1" y="1033.8" textLength="11" lengthAdjust="spacingAndGlyphs">7</text>
<text x="657.1" y="1009.1" textLength="11" lengthAdjust="spacingAndGlyphs">8</text>
<text x="657.1" y="984.4" textLength="11" lengthAdjust="spacingAndGlyphs">9</text>
<text x="646.1" y="959.7" textLength="22" lengthAdjust="spacingAndGlyphs">10</text>
<text x="767.1" y="1222.6" textLength="22" lengthAdjust="spacingAndGlyphs">50</text>
<text x="868.9" y="1222.6" textLength="33" lengthAdjust="spacingAndGlyphs">100</text>
<text x="976.2" y="1222.6" textLength="33" lengthAdjust="spacingAndGlyphs">150</text>
<text x="1083.5" y="1222.6" textLength="33" lengthAdjust="spacingAndGlyphs">200</text>
</g>
<clipPath id="clip-h"><rect x="671.4" y="950.5" width="430.1" height="250.6"/></clipPath>
<path d="M672.7 1199.2L675.2 1196.2L677.8 1195.4L679.9 1103L682 1102.2L684.2 1102.6L686.7 1115.8L689.1 1195.8L691.4 1196.2L693.1 1198.3L695.2 1196.2L697.4 1195.4L699.5 1103L701.6 1101.7L703.7 1101.7L706.1 1103.5L710.5 1195.8L714 1195.4L716.5 1196.2L720.8 1196.2L723.3 1195.4L725.5 1198.3L727.6 1198.8L731.8 1198.8L734.4 1196.6L736.1 1103L738.2 1102.2L740.3 1102.6L742.9 1115.8L745 1195.4L747.1 1195.8L749.3 1198.3L751.8 1198.8L754 1198.3L756.1 1195.4L760.3 1103L764.6 1103L768.9 1195.4L771 1198.3L773.5 1198.8L777.4 1198.8L779.1 1196.6L781.6 1146.8L783.7 1146.8L786.1 1195.8L788.4 1196.2L790.5 1198.3L793.1 1198.8L796.5 1198.8L798.6 1196.2L800.8 1195.4L803.1 1146.8L805.5 1195.8L807.6 1196.2L809.7 1195.8L811.8 1198.3L814.5 1198.8L820.1 1198.8L822.2 1195.8L826.6 1115.4L830.9 1195.4L832.9 1198.3L835 1198.8L839.2 1198.8L841.4 1195.8L845.9 1115.4L850.3 1195.4L852 1198.3L854.1 1198.8L858.4 1198.8L860.7 1195.8L862.9 1115.8L865.2 1102.6L866.9 1103L869.5 1115.4L871.6 1195.4L873.7 1198.3L875.8 1198.8L878 1198.3L880.1 1195.8L884.8 1102.2L886.9 1103.9L891.1 1195.4L893.3 1198.3L895.8 1198.8L899.7 1198.8L901.8 1195.8L904.1 1115.8L906.5 1102.6L908.2 1101.7L910.3 1103L915 1195.4L917.1 1198.8L919.2 1196.2L920.9 1195.4L923.1 1115.8L925.6 1102.6L927.3 1102.6L930.3 1115.4L932.4 1195.4L934.5 1196.2L936.7 1198.3L938.8 1198.3L940.9 1195.8L945.2 1103L947.3 1101.7L949.5 1103L953.7 1195.4L955.8 1198.3L958.1 1198.3L960.3 1195.4L962.4 1115.8L964.5 1103L966.6 1101.7L968.8 1103L973 1195.8L975.1 1194.9L979.4 1194.9L981.5 1147.3L985.8 1147.3L988.3 1195.4L990.5 1195.8L992.6 1198.3L994.7 1198.8L996.4 1198.3L998.5 1195.8L1002.8 1102.6L1005.4 1101.3L1007.5 1101.7L1009.6 1103L1011.7 1195.4L1013.9 1195.8L1016 1198.3L1017.7 1198.8L1019.8 1196.2L1024.1 1102.6L1028.3 1102.6L1031.3 1115.4L1033.5 1195.4L1035.6 1195.8L1037.7 1198.3L1039.4 1198.8L1041.5 1196.2L1044.1 1195.4L1046.4 1146.8L1048.8 1195.4L1050.9 1196.2L1053 1198.3L1055.2 1198.8L1060.7 1198.8L1062.8 1196.2L1065.4 1195.4L1070 1115.4L1074.3 1195.4L1076.4 1198.3L1078.5 1198.8L1080.7 1198.3L1082.8 1195.8L1087.1 1102.6L1089.6 1101.3L1092.2 1101.7L1094.3 1103L1096.4 1195.8L1099.8 1194.9" fill="none" stroke="#262626" stroke-width="2.8" stroke-linejoin="round" stroke-linecap="butt" clip-path="url(#clip-h)"/>
</g>
<g id="plot-i">
<path d="M1378.4 953V1198.6M1486 953V1198.6M1593.7 953V1198.6" stroke="#000" stroke-opacity="0.05" stroke-width="1.3" fill="none"/>
<path d="M1272.9 1174H1701.3M1272.9 1149.5H1701.3M1272.9 1124.9H1701.3M1272.9 1100.4H1701.3M1272.9 1075.8H1701.3M1272.9 1051.2H1701.3M1272.9 1026.7H1701.3M1272.9 1002.1H1701.3M1272.9 977.6H1701.3" stroke="#000" stroke-opacity="0.05" stroke-width="1.3" fill="none"/>
<rect x="1272.9" y="953" width="428.4" height="245.6" fill="none" stroke="#e4e4e6" stroke-width="1.4"/>
<path d="M1378.4 1198.6v-4M1378.4 953v4M1486 1198.6v-4M1486 953v4M1593.7 1198.6v-4M1593.7 953v4M1272.9 1174h4M1701.3 1174h-4M1272.9 1149.5h4M1701.3 1149.5h-4M1272.9 1124.9h4M1701.3 1124.9h-4M1272.9 1100.4h4M1701.3 1100.4h-4M1272.9 1075.8h4M1701.3 1075.8h-4M1272.9 1051.2h4M1701.3 1051.2h-4M1272.9 1026.7h4M1701.3 1026.7h-4M1272.9 1002.1h4M1701.3 1002.1h-4M1272.9 977.6h4M1701.3 977.6h-4" stroke="#dedfe2" stroke-width="1.2" fill="none"/>
<g font-family="'Liberation Sans', Arial, sans-serif" font-size="20.6" fill="#3e3f43" stroke="#3e3f43" stroke-width="0.25">
<text x="1257.1" y="1206.6" textLength="11" lengthAdjust="spacingAndGlyphs">0</text>
<text x="1257.1" y="1181.9" textLength="11" lengthAdjust="spacingAndGlyphs">1</text>
<text x="1257.1" y="1157.2" textLength="11" lengthAdjust="spacingAndGlyphs">2</text>
<text x="1257.1" y="1132.5" textLength="11" lengthAdjust="spacingAndGlyphs">3</text>
<text x="1257.1" y="1107.8" textLength="11" lengthAdjust="spacingAndGlyphs">4</text>
<text x="1257.1" y="1083.1" textLength="11" lengthAdjust="spacingAndGlyphs">5</text>
<text x="1257.1" y="1058.5" textLength="11" lengthAdjust="spacingAndGlyphs">6</text>
<text x="1257.1" y="1033.8" textLength="11" lengthAdjust="spacingAndGlyphs">7</text>
<text x="1257.1" y="1009.1" textLength="11" lengthAdjust="spacingAndGlyphs">8</text>
<text x="1257.1" y="984.4" textLength="11" lengthAdjust="spacingAndGlyphs">9</text>
<text x="1246.1" y="959.7" textLength="22" lengthAdjust="spacingAndGlyphs">10</text>
<text x="1367.4" y="1222.6" textLength="22" lengthAdjust="spacingAndGlyphs">50</text>
<text x="1469.5" y="1222.6" textLength="33" lengthAdjust="spacingAndGlyphs">100</text>
<text x="1577.2" y="1222.6" textLength="33" lengthAdjust="spacingAndGlyphs">150</text>
<text x="1684.8" y="1222.6" textLength="33" lengthAdjust="spacingAndGlyphs">200</text>
</g>
<clipPath id="clip-i"><rect x="1271.4" y="950.5" width="431.4" height="250.6"/></clipPath>
<path d="M1273.1 1199.2L1275.2 1198.3L1277.4 1195.8L1279.5 1189L1281.6 1128.5L1283.7 1120L1285.5 1119.6L1288 1137.1L1290.1 1188.1L1292.3 1198.3L1294.4 1198.8L1296.5 1198.3L1298.6 1189L1300.8 1128.5L1302.9 1116.2L1304.6 1115.8L1307.2 1128.5L1309.3 1149.4L1311.4 1194.9L1313.5 1198.3L1315.7 1198.8L1317.8 1195.8L1320.1 1188.5L1322.5 1194.9L1324.6 1196.2L1326.7 1198.8L1331.8 1198.8L1334 1197.9L1335.7 1194.9L1337.8 1128.5L1339.9 1120L1341.6 1119.6L1344.2 1137.9L1346.3 1189L1348.4 1198.8L1356.5 1198.8L1358.6 1149.8L1361.2 1128.5L1365.5 1128.5L1367.6 1149.4L1369.7 1198.8L1377.8 1198.8L1380.3 1194.9L1382.5 1149.8L1384.6 1149.8L1387 1189L1388.8 1195.8L1391 1198.3L1393.1 1198.8L1399.9 1198.8L1402 1189L1404.2 1149.8L1406.7 1189L1408.8 1195.8L1411 1198.3L1413.1 1198.8L1414.5 1198.8L1421.4 1198.8L1423.7 1189L1425.8 1149.4L1428 1139.2L1430 1149.4L1432.4 1194.9L1434.3 1198.3L1436.3 1198.8L1440.5 1198.8L1442.8 1189L1445 1149.4L1447.2 1139.2L1449.5 1149.4L1451.8 1194.9L1453.7 1198.3L1455.8 1198.8L1460.1 1198.8L1462.2 1194.9L1464.6 1137.9L1466.7 1119.6L1471.2 1138.8L1473.5 1194.9L1475.4 1198.3L1477.5 1198.8L1481.8 1198.8L1483.9 1149.8L1486 1119.2L1488.2 1128.5L1490.5 1149.4L1492.7 1194.9L1494.5 1198.3L1497.1 1198.8L1500.9 1198.3L1503.1 1194.9L1505.2 1137.9L1507.3 1120L1508.6 1119.2L1509.9 1120L1512 1128.5L1514.1 1149.4L1516.3 1194.9L1518.4 1198.3L1520.1 1198.3L1522.2 1194.9L1524.5 1137.9L1526.9 1119.6L1531.3 1137.9L1533.5 1189L1535.8 1198.3L1538 1198.8L1540.1 1198.3L1542.2 1194.9L1544.3 1149.8L1546.5 1120L1547.7 1119.2L1549 1120L1551.2 1128.5L1553.3 1149.4L1555.4 1194.9L1556 1197.5L1558.1 1198.8L1560.7 1194.9L1563.2 1138.8L1567.7 1120L1570 1128.5L1572.2 1149.4L1574.3 1194.9L1576.4 1198.3L1578.3 1198.3L1580.3 1194.9L1582.8 1149.8L1587.1 1149.8L1589.4 1189L1591.7 1195.8L1593.9 1198.3L1596 1198.8L1600.3 1198.8L1602.4 1149.8L1604.5 1120L1606.6 1116.2L1608.8 1120L1610.9 1128.5L1613 1189L1615.2 1198.3L1617.3 1198.8L1619.4 1198.3L1621.5 1194.9L1623.7 1149.8L1626 1119.6L1630 1119.6L1632.6 1138.8L1634.7 1194.9L1636.8 1198.3L1639 1198.8L1642.8 1198.8L1644.9 1189L1647.1 1149.4L1649.5 1189L1651.7 1195.8L1653.9 1198.3L1656 1198.8L1664.5 1198.8L1666.6 1189L1668.8 1149.4L1671.1 1139.2L1673.3 1149.4L1675.6 1194.9L1677.7 1198.3L1679.8 1198.8L1684.5 1198.8L1686.6 1149.8L1688.3 1120L1690.5 1116.2L1692.6 1115.8L1695.2 1128.5L1697.3 1189L1699.4 1198.3L1700.7 1199.2" fill="none" stroke="#262626" stroke-width="2.8" stroke-linejoin="round" stroke-linecap="butt" clip-path="url(#clip-i)"/>
</g>
<g font-family="'Liberation Sans', Arial, sans-serif" font-size="21.6" fill="#3e3f43" stroke="#3e3f43" stroke-width="0.3">
<text transform="translate(19.8 244.4) rotate(-90)" textLength="41" lengthAdjust="spacingAndGlyphs">Dice</text>
<text transform="translate(20.2 740.3) rotate(-90)" textLength="148.8" lengthAdjust="spacingAndGlyphs">3D volume (mL)</text>
<text transform="translate(19.8 1195.6) rotate(-90)" textLength="240.4" lengthAdjust="spacingAndGlyphs">center of mass shift (mm)</text>
<text x="167.3" y="1273.0" textLength="242.6" lengthAdjust="spacingAndGlyphs">real-time sampling points</text>
<text x="765.0" y="1273.0" textLength="242.6" lengthAdjust="spacingAndGlyphs">real-time sampling points</text>
<text x="1365.4" y="1273.0" textLength="242.6" lengthAdjust="spacingAndGlyphs">real-time sampling points</text>
</g>
<g font-family="'Liberation Serif', 'Times New Roman', serif" font-size="36.5" fill="#222" stroke="#222" stroke-width="1.2" stroke-linejoin="round">
<text x="228.38" y="28.0" textLength="91.42" lengthAdjust="spacingAndGlyphs">GTV</text>
<text x="694.21" y="28.3" textLength="362.68" lengthAdjust="spacingAndGlyphs">Duodenum-stomach</text>
<text x="1365.35" y="28.0" textLength="221.43" lengthAdjust="spacingAndGlyphs">Small bowel</text>
</g>
<g font-family="'Liberation Serif', 'Times New Roman', serif" font-size="36.0" fill="#262626" stroke="#262626" stroke-width="0.5">
<text y="469.8"><tspan x="160.6" y="471.4" font-size="39.0">(</tspan><tspan x="173.5" y="469.8">a</tspan><tspan x="190.1" y="471.4" font-size="39.0">)</tspan> <tspan x="218.44" y="469.8" textLength="62.63" lengthAdjust="spacingAndGlyphs">0.86</tspan> <tspan x="289.98" y="470.2" font-size="37.5" textLength="28.07" lengthAdjust="spacingAndGlyphs">±</tspan> <tspan x="326.51" y="469.8" textLength="63.88" lengthAdjust="spacingAndGlyphs">0.01</tspan></text>
<text y="469.8"><tspan x="760.2" y="471.4" font-size="39.0">(</tspan><tspan x="774.4" y="469.8">b</tspan><tspan x="792.3" y="471.4" font-size="39.0">)</tspan> <tspan x="818.83" y="469.8" textLength="63.04" lengthAdjust="spacingAndGlyphs">0.90</tspan> <tspan x="891.28" y="470.2" font-size="37.5" textLength="28.07" lengthAdjust="spacingAndGlyphs">±</tspan> <tspan x="927.81" y="469.8" textLength="63.88" lengthAdjust="spacingAndGlyphs">0.01</tspan></text>
<text y="469.8"><tspan x="1363.7" y="471.4" font-size="39.0">(</tspan><tspan x="1376.4" y="469.8">c</tspan><tspan x="1392.3" y="471.4" font-size="39.0">)</tspan> <tspan x="1418.03" y="469.8" textLength="62.98" lengthAdjust="spacingAndGlyphs">0.85</tspan> <tspan x="1490.38" y="470.2" font-size="37.5" textLength="28.07" lengthAdjust="spacingAndGlyphs">±</tspan> <tspan x="1526.99" y="469.8" textLength="64.73" lengthAdjust="spacingAndGlyphs">0.01</tspan></text>
<text y="909.8"><tspan x="136.5" y="911.4" font-size="39.0">(</tspan><tspan x="149.7" y="909.8">d</tspan><tspan x="168.7" y="911.4" font-size="39.0">)</tspan> <tspan x="194.93" y="909.8" textLength="64.71" lengthAdjust="spacingAndGlyphs">32.3</tspan> <tspan x="267.91" y="910.1999999999999" font-size="37.5" textLength="28.9" lengthAdjust="spacingAndGlyphs">±</tspan> <tspan x="305.09" y="909.8" textLength="42.95" lengthAdjust="spacingAndGlyphs">0.4</tspan> <tspan x="363.29" y="909.8" textLength="53.52" lengthAdjust="spacingAndGlyphs">mL</tspan></text>
<text y="909.8"><tspan x="729.6" y="911.4" font-size="39.0">(</tspan><tspan x="742.3" y="909.8">e</tspan><tspan x="758.1" y="911.4" font-size="39.0">)</tspan> <tspan x="785.42" y="909.8" textLength="80.95" lengthAdjust="spacingAndGlyphs">272.6</tspan> <tspan x="876.0" y="910.1999999999999" font-size="37.5" textLength="27.83" lengthAdjust="spacingAndGlyphs">±</tspan> <tspan x="911.88" y="909.8" textLength="46.02" lengthAdjust="spacingAndGlyphs">2.0</tspan> <tspan x="971.31" y="909.8" textLength="52.57" lengthAdjust="spacingAndGlyphs">mL</tspan></text>
<text y="909.8"><tspan x="1322.4" y="911.4" font-size="39.0">(</tspan><tspan x="1335.3" y="909.8">f</tspan><tspan x="1348.3" y="911.4" font-size="39.0">)</tspan> <tspan x="1375.01" y="909.8" textLength="84.02" lengthAdjust="spacingAndGlyphs">394.9</tspan> <tspan x="1465.62" y="910.1999999999999" font-size="37.5" textLength="28.78" lengthAdjust="spacingAndGlyphs">±</tspan> <tspan x="1502.12" y="909.8" textLength="65.23" lengthAdjust="spacingAndGlyphs">15.5</tspan> <tspan x="1580.3" y="909.8" textLength="53.21" lengthAdjust="spacingAndGlyphs">mL</tspan></text>
<text y="1350.4"><tspan x="143" y="1352" font-size="39.0">(</tspan><tspan x="155.2" y="1350.4">g</tspan><tspan x="173.3" y="1352" font-size="39.0">)</tspan> <tspan x="200.13" y="1350.4" textLength="43.72" lengthAdjust="spacingAndGlyphs">1.4</tspan> <tspan x="254.0" y="1350.8000000000002" font-size="37.5" textLength="27.83" lengthAdjust="spacingAndGlyphs">±</tspan> <tspan x="291.26" y="1350.4" textLength="44.71" lengthAdjust="spacingAndGlyphs">1.9</tspan> <tspan x="349.41" y="1350.4" textLength="58.17" lengthAdjust="spacingAndGlyphs">mm</tspan></text>
<text y="1350.4"><tspan x="742.6" y="1352" font-size="39.0">(</tspan><tspan x="755.8" y="1350.4">h</tspan><tspan x="773.9" y="1352" font-size="39.0">)</tspan> <tspan x="801.48" y="1350.4" textLength="45.75" lengthAdjust="spacingAndGlyphs">1.3</tspan> <tspan x="856.58" y="1350.8000000000002" font-size="37.5" textLength="26.66" lengthAdjust="spacingAndGlyphs">±</tspan> <tspan x="892.72" y="1350.4" textLength="45.26" lengthAdjust="spacingAndGlyphs">1.6</tspan> <tspan x="950.91" y="1350.4" textLength="58.27" lengthAdjust="spacingAndGlyphs">mm</tspan></text>
<text y="1350.4"><tspan x="1349.5" y="1352" font-size="39.0">(</tspan><tspan x="1361" y="1350.4">i</tspan><tspan x="1369.6" y="1352" font-size="39.0">)</tspan> <tspan x="1397.27" y="1350.4" textLength="44.46" lengthAdjust="spacingAndGlyphs">1.1</tspan> <tspan x="1452.2" y="1350.8000000000002" font-size="37.5" textLength="27.72" lengthAdjust="spacingAndGlyphs">±</tspan> <tspan x="1488.39" y="1350.4" textLength="45.63" lengthAdjust="spacingAndGlyphs">1.3</tspan> <tspan x="1547.51" y="1350.4" textLength="58.27" lengthAdjust="spacingAndGlyphs">mm</tspan></text>
</g>
</g>
</svg>
</body>
</html>
